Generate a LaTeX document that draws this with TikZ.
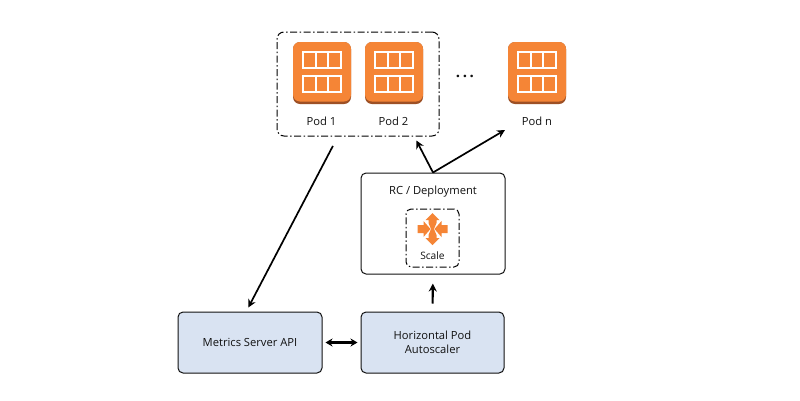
\documentclass[tikz,border=0pt]{standalone}
\usepackage{fontspec}
\setmainfont{Open Sans}
\usetikzlibrary{arrows.meta}
\definecolor{podorange}{HTML}{F58536}
\definecolor{poddark}{HTML}{9D5025}
\definecolor{hpablue}{HTML}{D9E3F2}
\definecolor{linegray}{HTML}{111111}
\tikzset{
  x=1pt,y=-1pt,
  lbl/.style={font=\fontsize{11.2}{14}\selectfont,text=linegray,align=center,inner sep=0pt},
  box/.style={draw=linegray,line width=1pt,rounded corners=5pt,inner sep=0pt,minimum width=#1,minimum height=61pt,lbl},
  bluebox/.style={box=#1,fill=hpablue},
  dashgroup/.style={draw=black,line width=1pt,rounded corners=7pt,dash pattern=on 7pt off 2.5pt on 1.5pt off 2.5pt,inner sep=0pt},
  arrow/.style={draw=black,line width=1.7pt,-{Stealth[length=8pt,width=8pt]}},
  pod/.pic={
    \fill[poddark,rounded corners=7pt] (-29,-31) rectangle (29,31);
    \fill[podorange,rounded corners=7pt] (-29,-31) rectangle (29,28.5);
    \foreach \yy in {-21.3,3}{
      \draw[white,line width=2.2pt] (-19,\yy) rectangle (19,\yy+16);
      \draw[white,line width=2.2pt] (-6.3,\yy) -- (-6.3,\yy+16) (6.3,\yy) -- (6.3,\yy+16);
    }
  },
  scaleicon/.pic={
    \fill[podorange] (0,-16) -- (7,-9) -- (4,-9) -- (4,-6) -- (1.5,0) -- (4,6) -- (4,9) -- (7,9) -- (0,16) -- (-7,9) -- (-4,9) -- (-4,6) -- (-1.5,0) -- (-4,-6) -- (-4,-9) -- (-7,-9) -- cycle;
    \fill[podorange] (-15,-4) -- (-9,-4) -- (-9,-8) -- (-2,0) -- (-9,8) -- (-9,4) -- (-15,4) -- cycle;
    \fill[podorange] (15,-4) -- (9,-4) -- (9,-8) -- (2,0) -- (9,8) -- (9,4) -- (15,4) -- cycle;
  }
}
\begin{document}
\begin{tikzpicture}
\useasboundingbox (0,0) rectangle (800,400);
\fill[white] (0,0) rectangle (800,400);
% pods group
\node[dashgroup,minimum width=162pt,minimum height=104pt] (pods) at (358,84) {};
\pic at (322,73) {pod};
\pic at (394,73) {pod};
\pic at (537,73) {pod};
\node[lbl] (pod1) at (321.5,121.5) {Pod 1};
\node[lbl] (pod2) at (393.5,121.5) {Pod 2};
\node[lbl] (podn) at (537,121.5) {Pod n};
\node[lbl,font=\fontsize{15}{15}\selectfont\bfseries] (dots) at (465,76.5) {.\hspace{2.6pt}.\hspace{2.6pt}.};
% RC
\node[box=144pt,minimum height=101pt] (rc) at (433,223.5) {};
\node[lbl] (rclabel) at (433,191.5) {RC / Deployment};
\node[dashgroup,rounded corners=5pt,minimum width=53pt,minimum height=58pt] (scalebox) at (432.5,238) {};
\pic at (432.5,229) {scaleicon};
\node[lbl,font=\fontsize{10.2}{12}\selectfont] (scale) at (432.5,255.5) {Scale};
% bottom boxes
\node[bluebox=144pt] (metrics) at (250,342.5) {Metrics Server API};
\node[bluebox=143pt] (hpa) at (432.5,342.5) {Horizontal Pod\\Autoscaler};
% free end of the arrow towards Pod n
\coordinate (pna) at (505,130);
\draw[arrow,shorten <=10.6pt,shorten >=4.5pt] (pods.249) -- (metrics.97.5);
\draw[arrow,shorten >=4.5pt] (rc.north) -- (pods.317.6);
\draw[arrow] (rc.north) -- (pna);
\draw[arrow,line width=2.1pt,shorten <=8pt,shorten >=9pt] (hpa.north) -- (rc.south);
\draw[arrow,line width=2.1pt,{Stealth[length=7pt,width=8pt]}-{Stealth[length=7pt,width=8pt]},shorten <=3pt,shorten >=3pt] (metrics.east) -- (hpa.west);
\end{tikzpicture}
\end{document}
